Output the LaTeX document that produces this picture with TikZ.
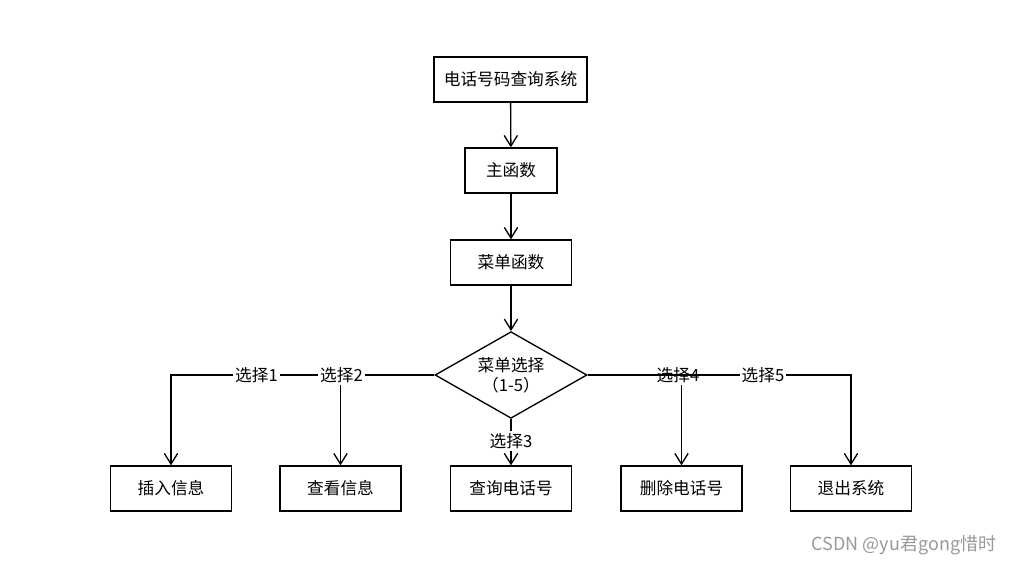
\documentclass[tikz,border=0pt]{standalone}
\usepackage{fontspec}
\setmainfont{Noto Sans CJK SC}
\usetikzlibrary{arrows.meta,shapes.geometric}

\begin{document}
\begin{tikzpicture}[x=0.75pt,y=-0.75pt,line width=1pt,
    every node/.style={font=\fontsize{12.5}{15}\selectfont,inner sep=0pt},
    box/.style={draw,minimum height=33.75pt,minimum width=90.75pt},
    choice/.style={diamond,draw,aspect=1.75,minimum width=114pt,minimum height=65pt,align=center},
    pick/.style={inner sep=1pt},
    arr/.style={-{Straight Barb[length=8pt,width=10pt]}}]
        \useasboundingbox (0,0) rectangle (1015,564);
        \node [box,minimum width=114.75pt] (sys) at (510.5,79.5) {电话号码查询系统};
        \node [box,minimum width=69pt] (main) at (511,170.5) {主函数};
        \node [box] (menu) at (511,262.5) {菜单函数};
        \node [choice] (choose) at (511,375) {菜单选择\\（1-5）};
        \node [box] (insert) at (171,488.5) {插入信息};
        \node [box] (view) at (340.5,488.5) {查看信息};
        \node [box] (query) at (511,488.5) {查询电话号};
        \node [box] (del) at (681.5,488.5) {删除电话号};
        \node [box] (quit) at (851,488.5) {退出系统};
        \node [pick,fill=white] (sel1) at (256.5,375) {选择1};
        \node [pick,fill=white] (sel2) at (341.5,375) {选择2};
        \node [pick,fill=white] (sel3) at (511,441) {选择3};
        \node [pick] (sel4) at (678,375) {选择4};
        \node [pick,fill=white] (sel5) at (763,375) {选择5};
        \draw [arr] (sys) -- (main);
        \draw [arr] (main) -- (menu);
        \draw [arr] (menu) -- (choose);
        \draw (choose.west) -- (sel2.east);
        \draw (sel2.west) -- (sel1.east);
        \draw [arr] (sel1.west) -| (insert.north);
        \draw [arr] (sel2.south -| view.north) -- (view.north);
        \draw (choose.south) -- (sel3.north);
        \draw [arr] (sel3.south) -- (query.north);
        \draw (choose.east) -- (sel5.west);
        \draw [arr] (sel5.east) -| (quit.north);
        \draw [arr] (sel4.south -| del.north) -- (del.north);
        \node [text=black!40,font=\fontsize{13.5}{15}\selectfont] (mark) at (904,545) {CSDN @yu君gong惜时};
\end{tikzpicture}
\end{document}
